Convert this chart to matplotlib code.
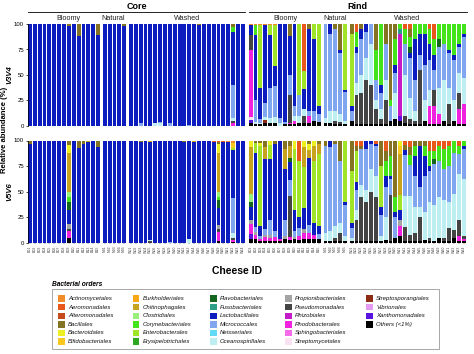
import numpy as np
import matplotlib.pyplot as plt
from matplotlib.patches import Rectangle

plt.rcParams['font.family'] = ['Liberation Sans', 'DejaVu Sans']

# bacterial orders, legend order (first = top of each stacked bar)
order_codes = ["Ac", "Ae", "Al", "Ba", "Bd", "Bi", "Bu", "Ch", "Cl", "Co", "En", "Er", "Fl", "Fu",
               "La", "Mi", "Ne", "Oc", "Pr", "Ps", "Rz", "Rh", "Sp", "Sm", "Ss", "Vi", "Xa", "Ot"]
order_names = ["Actinomycetales", "Aeromonadales", "Alteromonadales", "Bacillales", "Bacteroidales",
               "Bifidobacteriales", "Burkholderiales", "Chitinophagales", "Clostridiales",
               "Corynebacteriales", "Enterobacterales", "Erysipelotrichales", "Flavobacteriales",
               "Fusobacteriales", "Lactobacillales", "Micrococcales", "Neisseriales",
               "Oceanospirillales", "Propionibacteriales", "Pseudomonadales", "Rhizobiales",
               "Rhodobacterales", "Sphingobacteriales", "Streptomycetales", "Streptosporangiales",
               "Vibrionales", "Xanthomonadales", "Others (<1%)"]
order_colors = ["#f28c28", "#e8581a", "#c44a1c", "#857324", "#ecf020", "#f8c81c", "#f8a814",
                "#c8a41e", "#98f07a", "#44e41c", "#a0e428", "#2ea820", "#14661c", "#2e9e86",
                "#0c1cbe", "#7fa6ee", "#62daf6", "#bdeef2", "#a4a4a4", "#444444", "#c41ac8",
                "#f022e0", "#f46ae8", "#f8e2f2", "#8c2c14", "#e49cf2", "#5a14e0", "#000000"]

# cheese IDs (same cheeses for core and rind)
bloomy_ids = ["B01", "B02", "B03", "B04", "B05", "B06", "B07", "B08", "B09", "B10",
              "B11", "B12", "B13", "B14", "B15"]
natural_ids = ["N01", "N02", "N03", "N04", "N05"]
washed_ids = ["W01", "W02", "W03", "W04", "W05", "W06", "W07", "W08", "W09", "W10", "W11", "W12",
              "W13", "W14", "W15", "W16", "W17", "W18", "W19", "W20", "W21", "W22", "W23", "W24"]

# relative abundance (%) per bar
core_bloomy_v34 = [{"La": 100}] * 8 + [{"Ba": 1.5, "La": 98.5}, {"La": 100}, {"Ba": 11.5, "La": 88.5},
                   {"La": 100}, {"La": 100}, {"La": 100}, {"Ba": 11, "La": 89}]
core_natural_v34 = [{"La": 100}] * 4 + [{"Ba": 2, "La": 98}]
core_washed_v34 = [{"La": 100}, {"La": 100}, {"La": 97.5, "Mi": 2.5}, {"La": 100}, {"La": 100},
                   {"La": 97, "Oc": 3}, {"La": 96.5, "Mi": 1, "Oc": 2.5}, {"La": 100},
                   {"La": 97.5, "Mi": 2.5}, {"La": 100}, {"La": 100}, {"La": 100},
                   {"La": 99.2, "Mi": 0.8}, {"La": 100}, {"Ba": 1, "La": 99}, {"La": 100},
                   {"La": 100}, {"La": 100}, {"La": 100}, {"La": 100}, {"La": 100},
                   {"Ba": 3.3, "Co": 4.2, "La": 52.5, "Mi": 32.5, "Oc": 2.6, "Ps": 1.6, "Rh": 3.3},
                   {"La": 100}, {"La": 100}]
rind_bloomy_v34 = [
    {"Ac": 1, "La": 10, "Ps": 14.5, "Rh": 65.5, "Xa": 3, "Sm": 3.4, "Ot": 2.6},
    {"Ac": 1, "Co": 10, "La": 64, "Mi": 21.5, "Oc": 2, "Ot": 1.5},
    {"Ac": 1, "En": 62, "La": 30, "Mi": 4, "Oc": 1.5, "Ot": 1.5},
    {"Ac": 1, "La": 76, "Mi": 14, "Oc": 3, "Ss": 3, "Ot": 3},
    {"Ac": 1, "En": 10, "La": 52, "Mi": 29, "Oc": 5, "Ot": 3},
    {"Ac": 1, "En": 40, "La": 20, "Mi": 30, "Oc": 6, "Ot": 3},
    {"La": 92, "Mi": 5, "Oc": 3},
    {"La": 96, "Mi": 2, "Ot": 2},
    {"Ba": 12, "La": 38, "Mi": 20, "Ps": 27, "Rh": 1, "Ot": 2},
    {"La": 80, "Mi": 10, "Oc": 5, "Rh": 3, "Ot": 2},
    {"En": 70, "Mi": 20, "Oc": 7, "Ot": 3},
    {"Ae": 46, "En": 18, "La": 19, "Oc": 7, "Ps": 7, "Ot": 3},
    {"Ba": 5, "La": 80, "Mi": 5, "Rh": 7, "Ot": 3},
    {"En": 15, "La": 70, "Mi": 10, "Ot": 5},
    {"En": 80, "La": 8, "Mi": 8, "Ot": 4}]
rind_natural_v34 = [
    {"Mi": 92, "Oc": 5, "Ot": 3},
    {"La": 10, "Mi": 75, "Oc": 12, "Ot": 3},
    {"Ba": 5, "Mi": 80, "Oc": 10, "Ps": 3, "Ot": 2},
    {"Ba": 25, "La": 3, "Mi": 60, "Oc": 8, "Ps": 2, "Ot": 2},
    {"En": 65, "La": 2, "Mi": 28, "Oc": 3, "Ot": 2}]
rind_washed_v34 = [
    {"Ba": 10, "En": 70, "La": 5, "Mi": 10, "Ot": 5},
    {"Ae": 8, "Co": 15, "La": 5, "Mi": 30, "Oc": 12, "Ps": 28, "Ot": 2},
    {"Ba": 5, "La": 10, "Mi": 35, "Oc": 18, "Ps": 30, "Ot": 2},
    {"La": 8, "Mi": 25, "Oc": 22, "Ps": 43, "Ot": 2},
    {"Mi": 20, "Oc": 40, "Ps": 38, "Ot": 2},
    {"Ba": 25, "Co": 30, "Mi": 20, "Oc": 8, "Ps": 15, "Ot": 2},
    {"Co": 60, "La": 8, "Mi": 15, "Oc": 10, "Ps": 5, "Ot": 2},
    {"Ba": 20, "Mi": 35, "Oc": 20, "Ps": 23, "Ot": 2},
    {"Ba": 75, "Co": 5, "Mi": 15, "Ot": 5},
    {"Ba": 15, "Co": 25, "La": 8, "Mi": 20, "Oc": 25, "Ot": 7},
    {"Fu": 5, "Co": 5, "Rz": 80, "Xa": 5, "Ot": 5},
    {"Ae": 5, "Co": 15, "Mi": 30, "Oc": 40, "Ps": 7, "Ot": 3},
    {"Ae": 5, "Ba": 8, "Fl": 5, "Co": 10, "La": 5, "Mi": 40, "Oc": 20, "Ps": 5, "Ot": 2},
    {"Co": 15, "La": 40, "Mi": 30, "Oc": 10, "Ps": 3, "Ot": 2},
    {"Co": 10, "La": 20, "Mi": 15, "Ps": 53, "Ot": 2},
    {"Co": 10, "La": 30, "Mi": 35, "Oc": 20, "Ot": 5},
    {"Ae": 5, "Co": 15, "La": 15, "Mi": 30, "Oc": 15, "Rh": 18, "Ot": 2},
    {"Ae": 15, "Co": 15, "La": 15, "Mi": 20, "Ps": 15, "Rh": 18, "Ot": 2},
    {"Co": 15, "Fl": 8, "Mi": 40, "Oc": 25, "Rh": 10, "Ot": 2},
    {"Co": 20, "Mi": 35, "Oc": 40, "Ot": 5},
    {"Co": 25, "La": 3, "Mi": 35, "Oc": 15, "Ps": 20, "Ot": 2},
    {"Co": 30, "La": 5, "Mi": 40, "Oc": 20, "Ot": 5},
    {"Co": 20, "La": 3, "Mi": 25, "Oc": 20, "Ps": 15, "Rh": 15, "Ot": 2},
    {"Co": 10, "La": 3, "Mi": 40, "Oc": 25, "Rh": 20, "Ot": 2}]

core_bloomy_v56 = [{"Ba": 3, "La": 97}] + [{"La": 100}] * 7 + [
    {"Ba": 4.4, "Bd": 8, "Ch": 37.5, "Cl": 5, "Co": 5, "Fl": 8, "La": 13, "Pr": 5, "Ps": 2,
     "Rh": 7.5, "Ot": 4.5},
    {"La": 100}, {"Ba": 7, "La": 93}, {"Ba": 3, "La": 97}, {"Ch": 1.5, "La": 98.5},
    {"La": 100}, {"Ba": 6, "La": 94}]
core_natural_v56 = [{"La": 100}] * 5
core_washed_v56 = [{"La": 100}, {"La": 100}, {"Ba": 1, "La": 99}, {"La": 100},
                   {"Ch": 1, "La": 96.5, "Oc": 1, "Ps": 1.5}, {"La": 100}, {"La": 100},
                   {"La": 100}, {"La": 99, "Mi": 1}, {"La": 100}, {"La": 100},
                   {"Ba": 1.5, "La": 98.5}, {"La": 96.5, "Oc": 3.5}, {"Ch": 1, "La": 99},
                   {"La": 100}, {"La": 100}, {"La": 100}, {"Ae": 1, "La": 99},
                   {"Ae": 1, "Ba": 2, "Bd": 9.5, "Ch": 37.5, "Cl": 5, "Co": 3.4, "Fl": 7.2,
                    "La": 16.4, "Pr": 4.2, "Ps": 3.3, "Rh": 8.2, "Ot": 2.3},
                   {"Ae": 1, "La": 99}, {"Ac": 1.5, "La": 98.5},
                   {"Ac": 2.5, "Bi": 5, "En": 2, "La": 47, "Mi": 34, "Oc": 5, "Ps": 1.5,
                    "Rh": 2, "Ot": 1},
                   {"La": 100}, {"La": 100}]
rind_bloomy_v56 = [
    {"Bd": 6, "Ch": 46, "Cl": 8, "Fl": 5, "La": 13, "Pr": 3, "Rh": 10, "Xa": 5, "Ot": 4},
    {"Ba": 2, "En": 10, "La": 72, "Mi": 5, "Pr": 3, "Rh": 4, "Ot": 4},
    {"Ba": 2, "Bd": 3, "En": 78, "La": 10, "Mi": 3, "Rh": 2, "Ot": 2},
    {"Ba": 6, "Ch": 12, "La": 68, "Mi": 6, "Pr": 2, "Rh": 4, "Ot": 2},
    {"Bd": 4, "En": 14, "La": 60, "Mi": 14, "Pr": 3, "Rh": 3, "Ot": 2},
    {"Ba": 3, "La": 85, "Mi": 6, "Rh": 4, "Ot": 2},
    {"La": 96, "Rh": 2, "Ot": 2},
    {"Ba": 8, "Ch": 20, "La": 50, "Mi": 15, "Pr": 3, "Ot": 4},
    {"Ba": 5, "Ch": 12, "Fl": 4, "La": 18, "Mi": 15, "Ps": 40, "Rh": 3, "Ot": 3},
    {"Bd": 8, "En": 60, "La": 20, "Mi": 6, "Pr": 2, "Ot": 4},
    {"Ae": 20, "En": 55, "La": 10, "Mi": 8, "Rh": 4, "Ot": 3},
    {"Bd": 6, "Ch": 20, "En": 40, "La": 20, "Pr": 4, "Rh": 6, "Ot": 4},
    {"Ba": 3, "Bd": 6, "Ch": 8, "La": 65, "Mi": 8, "Rh": 6, "Ot": 4},
    {"Bd": 5, "Ch": 15, "En": 60, "La": 12, "Rh": 4, "Ot": 4},
    {"Ba": 3, "Ch": 10, "En": 70, "La": 8, "Mi": 5, "Ot": 4}]
rind_natural_v56 = [
    {"Ba": 5, "Mi": 85, "Oc": 8, "Ot": 2},
    {"La": 6, "Mi": 82, "Oc": 10, "Ot": 2},
    {"Ba": 3, "Mi": 80, "Oc": 12, "Ps": 3, "Ot": 2},
    {"Ba": 20, "Mi": 60, "Oc": 10, "Ps": 8, "Ot": 2},
    {"En": 60, "La": 3, "Mi": 30, "Oc": 5, "Ot": 2}]
rind_washed_v56 = [
    {"Ba": 30, "En": 50, "La": 5, "Mi": 10, "Oc": 3, "Ot": 2},
    {"Ae": 5, "Ba": 5, "En": 30, "La": 8, "Mi": 20, "Oc": 10, "Ps": 20, "Ot": 2},
    {"Ae": 5, "Ba": 3, "Mi": 35, "Oc": 12, "Ps": 43, "Ot": 2},
    {"La": 8, "Mi": 40, "Oc": 12, "Ps": 38, "Ot": 2},
    {"La": 3, "Mi": 25, "Oc": 22, "Ps": 48, "Ot": 2},
    {"Ae": 3, "La": 2, "Mi": 30, "Oc": 20, "Ps": 43, "Ot": 2},
    {"Ba": 25, "En": 40, "La": 8, "Mi": 20, "Oc": 5, "Ot": 2},
    {"Ae": 10, "Ba": 10, "Co": 15, "La": 10, "Mi": 30, "Oc": 22, "Ot": 3},
    {"Ba": 15, "Co": 20, "La": 3, "Mi": 15, "Ps": 45, "Ot": 2},
    {"Ba": 55, "Co": 15, "La": 5, "Mi": 20, "Ot": 5},
    {"Bd": 5, "Bi": 8, "Ch": 40, "En": 15, "La": 10, "Pr": 5, "Rh": 10, "Ot": 7},
    {"Ae": 4, "Ba": 5, "La": 5, "Mi": 40, "Oc": 30, "Ps": 14, "Ot": 2},
    {"Ae": 6, "Ba": 8, "Co": 10, "Mi": 30, "Oc": 38, "Ps": 6, "Ot": 2},
    {"Ba": 5, "Co": 10, "La": 20, "Mi": 30, "Oc": 25, "Ps": 8, "Ot": 2},
    {"Ba": 5, "La": 40, "Mi": 20, "Oc": 10, "Ps": 23, "Ot": 2},
    {"Ba": 5, "Co": 10, "La": 20, "Mi": 35, "Oc": 27, "Ot": 3},
    {"Ae": 10, "Co": 15, "La": 5, "Mi": 30, "Oc": 35, "Ps": 3, "Ot": 2},
    {"Ae": 10, "Co": 8, "Fl": 5, "Mi": 40, "Oc": 35, "Ot": 2},
    {"Ae": 5, "Co": 15, "Mi": 35, "Oc": 40, "Ot": 5},
    {"Ae": 8, "Co": 20, "Mi": 30, "Oc": 37, "Ps": 3, "Ot": 2},
    {"Ae": 5, "Co": 20, "Mi": 35, "Oc": 25, "Ps": 13, "Ot": 2},
    {"Co": 12, "Mi": 40, "Oc": 35, "Ps": 8, "Ot": 5},
    {"Ae": 5, "Co": 8, "Mi": 20, "Oc": 45, "Ps": 15, "Rh": 5, "Ot": 2},
    {"Co": 5, "La": 3, "Mi": 30, "Oc": 55, "Ps": 3, "Rh": 2, "Ot": 2}]

group_ids = [bloomy_ids, natural_ids, washed_ids, bloomy_ids, natural_ids, washed_ids]
group_gaps = [0, 0.37, 0.37, 0.6, 0.37, 0.37]
v34 = core_bloomy_v34 + core_natural_v34 + core_washed_v34 + rind_bloomy_v34 + rind_natural_v34 + rind_washed_v34
v56 = core_bloomy_v56 + core_natural_v56 + core_washed_v56 + rind_bloomy_v56 + rind_natural_v56 + rind_washed_v56

xpos = []
labels = []
start = 0.0
for ids, gap in zip(group_ids, group_gaps):
    start += gap
    xpos.extend(start + np.arange(len(ids)))
    labels.extend(ids)
    start += len(ids)
xpos = np.array(xpos)


def draw_panel(ax, bars):
    totals = np.array([sum(b.values()) for b in bars], dtype=float)
    bottom = np.zeros(len(bars))
    for code, color in reversed(list(zip(order_codes, order_colors))):
        vals = np.array([b.get(code, 0) for b in bars], dtype=float) / totals * 100
        ax.bar(xpos, vals, width=0.8, bottom=bottom, color=color, linewidth=0)
        bottom += vals
    ax.set_xlim(xpos[0] - 0.5, xpos[-1] + 0.5)
    ax.set_ylim(0, 100)
    ax.set_yticks([0, 25, 50, 75, 100])
    ax.tick_params(axis='y', labelsize=4.3, length=1.5, width=0.5, pad=1)
    for s in ['top', 'right', 'bottom']:
        ax.spines[s].set_visible(False)
    ax.spines['left'].set_linewidth(0.5)


W, H = 474, 354
fig = plt.figure(figsize=(W / 100, H / 100), dpi=100)
ax1 = fig.add_axes([27.5 / W, 1 - 126 / H, 438.5 / W, 102 / H])
ax2 = fig.add_axes([27.5 / W, 1 - 243 / H, 438.5 / W, 102.5 / H])
draw_panel(ax1, v34)
draw_panel(ax2, v56)
ax1.set_xticks([])
ax2.set_xticks(xpos)
ax2.set_xticklabels(labels, rotation=90, fontsize=2.6, color='#444444')
ax2.tick_params(axis='x', length=1, width=0.3, pad=0.8)

ov = fig.add_axes([0, 0, 1, 1])
ov.set_xlim(0, W)
ov.set_ylim(H, 0)
ov.axis('off')

ov.text(10, 75, "V3V4", rotation=90, ha='center', va='center', fontsize=5.5,
        fontweight='bold', fontstyle='italic')
ov.text(10, 192, "V5V6", rotation=90, ha='center', va='center', fontsize=5.5,
        fontweight='bold', fontstyle='italic')
ov.text(4.5, 130, "Relative abundance (%)", rotation=90, ha='center', va='center',
        fontsize=5.5, fontweight='bold')

ov.text(137, 6.5, "Core", ha='center', va='center', fontsize=6.5, fontweight='bold')
ov.text(357, 6.5, "Rind", ha='center', va='center', fontsize=6.5, fontweight='bold')
ov.plot([28, 245], [12.3, 12.3], color='black', lw=0.6)
ov.plot([249, 467], [12.3, 12.3], color='black', lw=0.6)
for x, t in [(68, "Bloomy"), (113, "Natural"), (187, "Washed"),
             (285, "Bloomy"), (335, "Natural"), (407, "Washed")]:
    ov.text(x, 18, t, ha='center', va='center', fontsize=5.2, color='#222222')

ov.text(237, 271, "Cheese ID", ha='center', va='center', fontsize=7.5, fontweight='bold')

# legend
ov.text(52, 284, "Bacterial orders", ha='left', va='center', fontsize=4.8,
        fontweight='bold', fontstyle='italic')
ov.add_patch(Rectangle((52, 289), 387.5, 60, facecolor='none', edgecolor='#999999', lw=0.6))
col_x = [58.3, 132.7, 210, 285.3, 366.3]
row_y = [298.3, 307.1, 315.7, 324.3, 332.9, 341.5]
for i, (name, color) in enumerate(zip(order_names, order_colors)):
    cx = col_x[i // 6]
    cy = row_y[i % 6]
    ov.add_patch(Rectangle((cx, cy - 3.2), 6.7, 6.4, facecolor=color, edgecolor='none'))
    ov.text(cx + 10, cy, name, ha='left', va='center', fontsize=4.3, fontstyle='italic',
            color='#111111')

fig.savefig("out.png", dpi=100)
